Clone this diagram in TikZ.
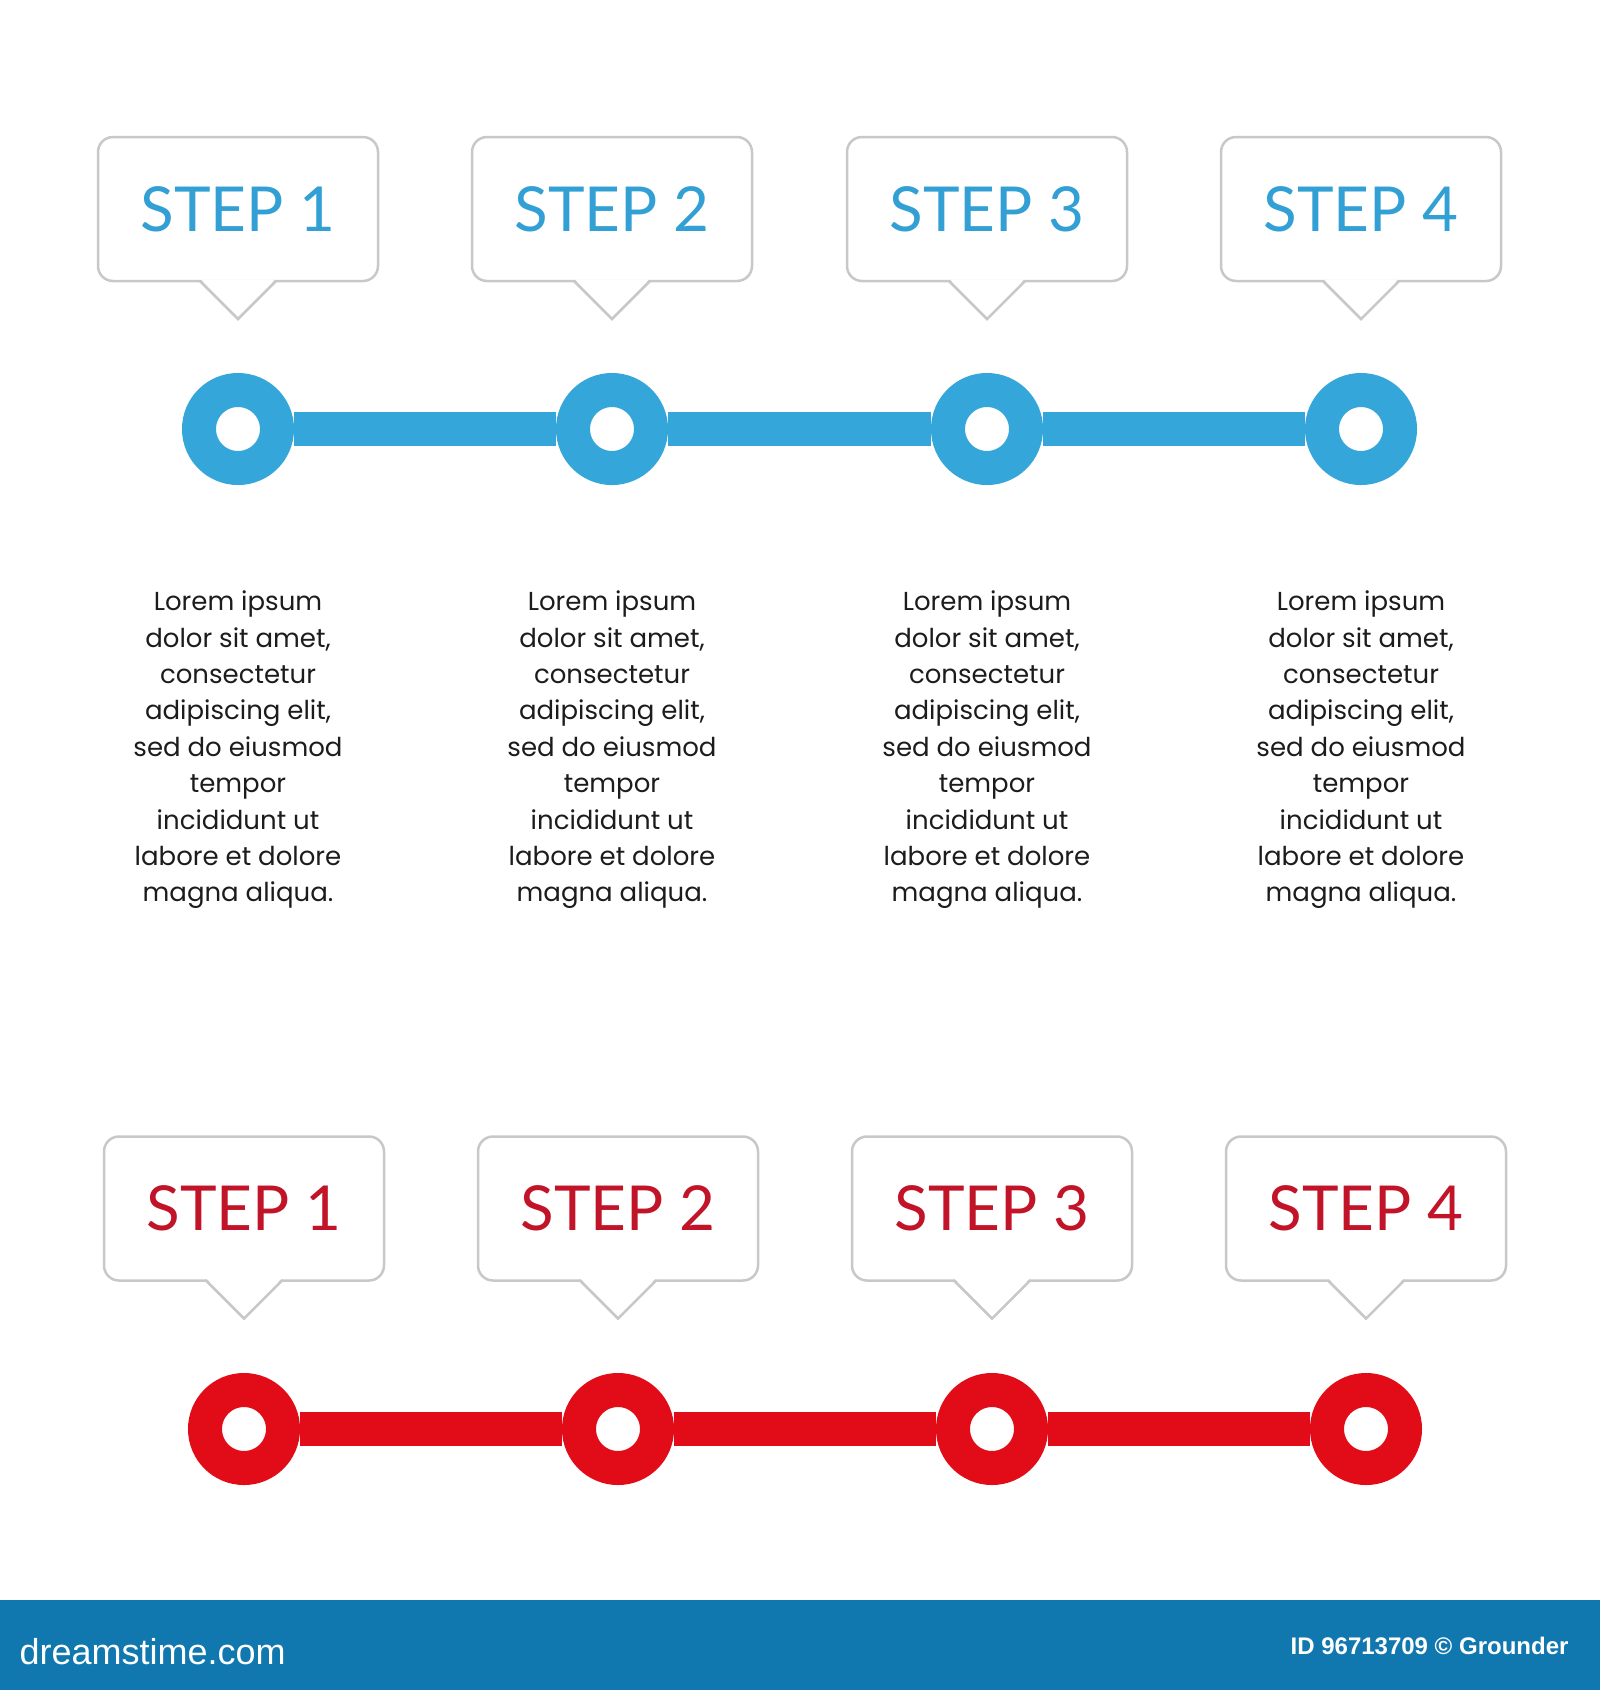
\documentclass[tikz,border=0pt]{standalone}
\usepackage{fontspec}
\setmainfont{Lato}
\newfontfamily\notefont{Poppins}
\newfontfamily\footfont{Liberation Sans}
\definecolor{lineblue}{RGB}{52,166,218}
\definecolor{textblue}{RGB}{50,160,212}
\definecolor{linered}{RGB}{226,12,24}
\definecolor{textred}{RGB}{194,20,40}
\definecolor{boxgray}{RGB}{200,200,200}
\definecolor{notegray}{RGB}{28,28,28}
\definecolor{footblue}{RGB}{16,119,175}
\newcommand\pointer[1]{%
  \fill[white] ([shift={(-37,-1.5)}]#1.south) -- ([shift={(37,-1.5)}]#1.south) -- ([yshift=-38pt]#1.south) -- cycle;
  \draw[tail] ([xshift=-38pt]#1.south) -- ([yshift=-38pt]#1.south) -- ([xshift=38pt]#1.south);}
\newcommand\lorem{Lorem ipsum\\dolor sit amet,\\consectetur\\adipiscing elit,\\sed do eiusmod\\tempor\\incididunt ut\\labore et dolore\\magna aliqua.}
\begin{document}
\begin{tikzpicture}[x=1pt,y=-1pt,
  bubble/.style={draw=boxgray,fill=white,line width=2.5pt,rounded corners=15pt,minimum width=280pt,minimum height=144pt,inner sep=0pt,outer sep=0pt,font=\fontsize{62}{72}\selectfont},
  tail/.style={draw=boxgray,line width=2.5pt,line cap=round},
  ring/.style={circle,draw=#1,line width=34pt,fill=white,minimum size=78pt,inner sep=0pt},
  note/.style={align=center,text=notegray,font=\notefont\fontsize{26}{36.4}\selectfont}]
\useasboundingbox (0,0) rectangle (1600,1690);
% blue timeline
\node[bubble,text=textblue] (b1) at (238,209) {STEP 1}; \pointer{b1}
\node[bubble,text=textblue] (b2) at (612,209) {STEP 2}; \pointer{b2}
\node[bubble,text=textblue] (b3) at (987,209) {STEP 3}; \pointer{b3}
\node[bubble,text=textblue] (b4) at (1361,209) {STEP 4}; \pointer{b4}
\node[ring=lineblue] (c1) at (238,429) {};
\node[ring=lineblue] (c2) at (612,429) {};
\node[ring=lineblue] (c3) at (987,429) {};
\node[ring=lineblue] (c4) at (1361,429) {};
\draw[lineblue,line width=34pt] (c1) -- (c2) -- (c3) -- (c4);
\node[note] (t1) at (238,750) {\lorem};
\node[note] (t2) at (612,750) {\lorem};
\node[note] (t3) at (987,750) {\lorem};
\node[note] (t4) at (1361,750) {\lorem};
% red timeline
\node[bubble,text=textred] (r1) at (244,1208.5) {STEP 1}; \pointer{r1}
\node[bubble,text=textred] (r2) at (618,1208.5) {STEP 2}; \pointer{r2}
\node[bubble,text=textred] (r3) at (992,1208.5) {STEP 3}; \pointer{r3}
\node[bubble,text=textred] (r4) at (1366,1208.5) {STEP 4}; \pointer{r4}
\node[ring=linered] (d1) at (244,1429) {};
\node[ring=linered] (d2) at (618,1429) {};
\node[ring=linered] (d3) at (992,1429) {};
\node[ring=linered] (d4) at (1366,1429) {};
\draw[linered,line width=34pt] (d1) -- (d2) -- (d3) -- (d4);
% footer
\fill[footblue] (0,1600) rectangle (1600,1690);
\node[anchor=west,text=white,font=\footfont\fontsize{36}{40}\selectfont] (logo) at (16,1652) {dreamstime.com};
\node[anchor=east,text=white,font=\footfont\bfseries\fontsize{24}{28}\selectfont] (credit) at (1572,1646) {ID 96713709 © Grounder};
\end{tikzpicture}
\end{document}
